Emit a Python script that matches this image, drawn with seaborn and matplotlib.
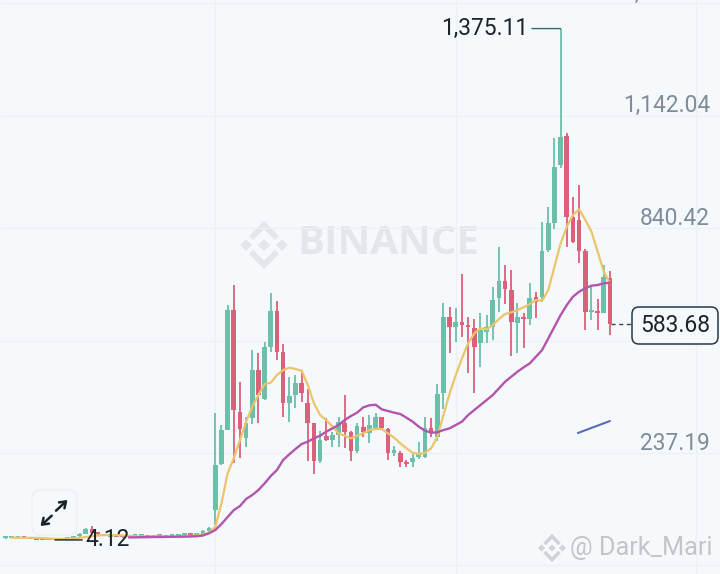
import matplotlib
matplotlib.use('Agg')
import numpy as np
import pandas as pd
import matplotlib.pyplot as plt
import seaborn as sns
from matplotlib.patches import FancyBboxPatch, Polygon

# candles, oldest first
opens = [8, 8.5, 9, 10, 8, 6, 5, 5, 4.5, 5, 5, 9, 14, 20, 34, 25, 20, 13, 13, 12, 12, 13, 13, 12, 12, 13, 12, 13, 14, 17, 19, 18, 21, 28,
         84, 207, 299, 620.6, 348, 276.5, 330, 459.7, 381, 522.2, 618.8, 507, 372, 392.7, 425.7, 372, 318.5, 216.6, 282.7, 272, 285.4, 318.5, 294.4, 243.4, 307.8, 289.9, 303.3, 332.8, 300.6, 236.3, 236.3, 213.9, 213.9, 227.3, 227.3, 303, 281,
         397.1, 602.7, 575.9, 589.3, 580.4, 571.4, 531.2, 562.5, 575.9, 651.8, 698.3, 674.2, 584.8, 602.7, 595.5, 656.3, 656.3, 781.4, 854.7, 1009.3, 1087, 870.8, 861.9, 779.6, 615, 616, 613.4, 705.4]
closes = [10, 9.5, 12, 8, 7, 5, 4.5, 4.5, 4.5, 4.5, 9, 13, 20, 33, 24, 20, 15, 15, 12, 11, 13, 14, 13, 11, 13, 14, 13, 15, 17, 19, 18, 21, 27, 37,
          205, 299, 620.6, 352.4, 300.6, 316.7, 459.7, 392.7, 522.2, 618.8, 508.8, 372, 390, 423.9, 398.9, 318.5, 216.6, 272, 272, 285.4, 321, 294.4, 243.4, 309.6, 294.4, 312.2, 334.6, 303.3, 238, 245.2, 213.9, 206.8, 222.9, 238, 303.3, 290, 395.3,
          602.7, 575.9, 589.3, 580.4, 574, 522.3, 566.9, 575.9, 647.4, 698.3, 676, 589.3, 602.7, 595.5, 651.8, 642.9, 779.6, 852.9, 1004.8, 1085.3, 870.8, 803.8, 779.6, 616.1, 618.8, 611.6, 709.9, 583.68]
highs = [11, 10, 13, 10, 9, 6, 5.5, 5.5, 5, 5, 10, 14, 22, 36, 42, 26, 21, 17, 14, 13, 14, 18, 14, 13, 15, 16, 15, 17, 19, 21, 21, 24, 30, 40,
         343.5, 312, 634, 687.6, 428, 334.6, 513, 504.4, 535.7, 665.2, 645.6, 529.4, 440, 446.3, 459.7, 407.9, 318.5, 296.1, 330, 294.4, 334.6, 392.7, 297, 318.5, 332.8, 339, 343.5, 334.6, 303.3, 255.9, 243.4, 218.4, 234.5, 267.6, 334.6, 330, 422,
         640.2, 629.5, 626.8, 717, 600.9, 596.4, 613.4, 607, 683, 790.4, 741.2, 727.8, 640.2, 613.4, 692, 669.7, 857.4, 895.8, 1080.8, 1375.11, 1094.2, 924.4, 955.7, 783.2, 683, 649, 741.2, 726]
lows = [7, 8, 8.5, 7, 6, 4.5, 4.12, 4.12, 4.12, 4.12, 4.5, 8, 13, 19, 21, 18, 14, 12, 11, 9, 11, 12, 11, 9, 11, 12, 11, 12, 13, 15, 16, 17, 20, 26,
        44, 205, 299, 209.5, 223, 252, 314.9, 316.7, 379, 508.8, 486.5, 332.8, 321, 356.9, 374.8, 216.6, 180.9, 211, 270.2, 254, 254, 249.7, 216.6, 238, 280.9, 263, 298.8, 300.6, 218.4, 229, 200.5, 200.5, 200.5, 220, 222.9, 281, 270,
        354.2, 506, 535.7, 549, 452.5, 397.1, 468.6, 531.2, 540, 616.1, 636.6, 497, 506, 517.8, 580.4, 598.2, 642.9, 775, 836.8, 1000, 788.6, 799, 747.5, 566.9, 593.7, 566.9, 611.6, 553.5]

# the two moving averages, first candle of each given below
ma_fast_start = 1
ma_fast = [10, 10, 10, 10, 9.5, 9, 8, 7, 7, 7.5, 8, 10, 12, 14, 16, 17, 17.5, 17, 16, 15, 14, 13.5, 13, 13, 13, 13, 13, 13, 14, 15, 16, 18, 24,
           38.8, 102, 182.6, 222.9, 272, 321.2, 361.4, 392.7, 422.2, 425.7, 446.3, 459.7, 465.9, 462.4, 457.9, 419.5, 370.3, 339, 325.6, 307.8, 289.9, 283.6, 276.5, 283.6, 289.9, 298.8, 301.5, 301.5, 289.9, 278.3, 263, 249.7, 238, 234.5, 238, 249.7, 280,
           339, 397.1, 446.3, 491, 531.2, 558, 571.4, 568.7, 580.4, 596.4, 609.8, 614.3, 620.6, 627.7, 636.6, 647.4, 645.6, 674.2, 736.7, 799.3, 844, 875.3, 890.5, 861.9, 830.6, 777, 723.3, 692.1]
ma_slow_start = 20
ma_slow = [11, 11, 11.5, 11.5, 12, 12, 12.5, 12.5, 13, 13, 13.5, 14, 16, 22,
           30.7, 46.8, 65.6, 84, 95, 114, 124.6, 138, 155.8, 175.5, 191.6, 218.4, 233.6, 247.9, 261.3, 267.6, 276.5, 283.6, 294.4, 303.3, 312.2, 325.6, 336.4, 345.3, 359.6, 365, 366.7, 354.2, 349.8, 345.3, 341.7, 331.9, 321.2, 307.8, 297, 291.7, 292.6,
           298.8, 303.3, 312.2, 321.2, 339, 352.4, 365.8, 379.2, 392.7, 410.6, 428.4, 441.8, 455.2, 466.9, 477.6, 495.5, 513.3, 544.6, 575.9, 607.2, 634, 656.3, 669.7, 678.7, 685.8, 687.6, 692.1, 693.9]

trend_x = [92.8, 98]
trend_y = [290.8, 323]

price_ticks = [1443.66, 1142.04, 840.42, 538.8, 237.19, -64.4]
price_labels = ['1,443.66', '1,142.04', '840.42', '', '237.19', '']
time_grid = [34, 73, 112]
last_price = 583.68
high_label = '1,375.11'
low_label = '4.12'

BG = '#f5f9fc'
GRID = '#edf1f6'
UP = '#6cc0a9'
DOWN = '#dc6079'
YELLOW = '#ecc46a'
MAGENTA = '#b455ab'
INK = '#1e2329'
AXIS_TEXT = '#7f8c9a'
WM = '#e3e7eb'
FS = 16.4

sns.set_theme(style='white')
plt.rcParams['font.family'] = ['Roboto', 'DejaVu Sans']

df = pd.DataFrame({'open': opens, 'high': highs, 'low': lows, 'close': closes})
df['i'] = np.arange(len(df))
up = df['close'] >= df['open']
colors = np.where(up, UP, DOWN)

fig = plt.figure(figsize=(7.2, 5.74), dpi=100, facecolor=BG)

def pixel_axes(z):
    a = fig.add_axes([0, 0, 1, 1], zorder=z, facecolor='none')
    a.set_xlim(0, 720)
    a.set_ylim(574, 0)
    a.axis('off')
    return a

def binance_logo(a, cx, cy, s, color):
    # s is half the logo height in pixels
    u = s / 4.0
    for dx, dy in [(0, 0), (-3, 0), (3, 0)]:
        a.add_patch(Polygon([(cx + dx*u, cy + dy*u - u), (cx + dx*u + u, cy + dy*u),
                             (cx + dx*u, cy + dy*u + u), (cx + dx*u - u, cy + dy*u)], color=color, lw=0))
    for sign in (-1, 1):
        a.add_patch(Polygon([(cx, cy + sign*4*u), (cx + 2.5*u, cy + sign*1.5*u), (cx + 1.8*u, cy + sign*0.8*u),
                             (cx, cy + sign*2.6*u), (cx - 1.8*u, cy + sign*0.8*u), (cx - 2.5*u, cy + sign*1.5*u)],
                            color=color, lw=0))

back = pixel_axes(0)
binance_logo(back, 264, 245, 24, WM)
back.text(388, 244, 'BINANCE', color=WM, fontsize=29, fontweight='bold', family='Open Sans', ha='center', va='center')

ax = fig.add_axes([0, 0, 1, 1], zorder=1, facecolor='none')
ax.set_xlim(-0.908, 115.84)
ax.set_ylim(-87.2, 1451.7)

ax.vlines(time_grid, -87.2, 1451.7, color=GRID, lw=1, zorder=0)
ax.hlines(price_ticks, -0.908, 115.84, color=GRID, lw=1, zorder=0)

ax.vlines(df['i'], df['low'], df['high'], colors=colors, lw=1.3, zorder=2)
body_low = df[['open', 'close']].min(axis=1)
body_h = (df['close'] - df['open']).abs().clip(lower=6)
ax.bar(df['i'], body_h, bottom=body_low, width=0.75, color=colors, lw=0, zorder=2)

fast = pd.DataFrame({'i': np.arange(len(ma_fast)) + ma_fast_start, 'v': ma_fast})
slow = pd.DataFrame({'i': np.arange(len(ma_slow)) + ma_slow_start, 'v': ma_slow})
sns.lineplot(data=fast, x='i', y='v', ax=ax, color=YELLOW, lw=1.6, zorder=3, estimator=None, sort=False)
sns.lineplot(data=slow, x='i', y='v', ax=ax, color=MAGENTA, lw=1.7, zorder=4, estimator=None, sort=False)
ax.plot(trend_x, trend_y, color='#5b6bb5', lw=1.5, zorder=4)

ax.axis('off')

# price axis labels sit just above their grid lines
for p, lab in zip(price_ticks, price_labels):
    if lab:
        ax.annotate(lab, xy=(710 / 720, p), xycoords=('axes fraction', 'data'), xytext=(0, 7.2),
                    textcoords='offset points', ha='right', va='center', color=AXIS_TEXT, fontsize=FS, zorder=5)

# high and low markers
i_hi = int(np.argmax(highs))
ax.annotate(high_label, xy=(i_hi, max(highs)), xytext=(-23, 0), textcoords='offset points', ha='right', va='center',
            color=INK, fontsize=FS, zorder=5, arrowprops=dict(arrowstyle='-', color='#2f6f63', lw=1, shrinkA=0, shrinkB=0))
i_lo = int(np.argmin(lows)) + 2
ax.annotate(low_label, xy=(i_lo, min(lows)), xytext=(22, 0), textcoords='offset points', ha='left', va='center',
            color=INK, fontsize=FS, zorder=5, arrowprops=dict(arrowstyle='-', color=INK, lw=1, shrinkA=0, shrinkB=0))

ax.hlines(last_price, len(df) - 1 + 0.2, 101.6, color='#3a4653', lw=1, linestyles=(0, (3, 2.5)), zorder=5)

top = pixel_axes(2)
top.add_patch(FancyBboxPatch((638, 313), 74, 25, boxstyle='round,pad=6,rounding_size=7', fc=BG, ec='#27384a', lw=1.1))
top.text(675, 325.5, f'{last_price:.2f}', color=INK, fontsize=FS, ha='center', va='center')

# expand button
top.add_patch(FancyBboxPatch((38, 496), 33, 33, boxstyle='round,pad=6,rounding_size=8', fc=BG, ec='#ebeff3', lw=1))
for a, b in [((56, 510.7), (67.5, 500)), ((51.7, 515.7), (40.5, 526))]:
    top.annotate('', xy=b, xytext=a, arrowprops=dict(arrowstyle='->,head_length=0.34,head_width=0.24', color=INK, lw=1.8, shrinkA=0, shrinkB=0))

# corner watermark
binance_logo(top, 552, 548, 14, '#cfd2d6')
top.text(570, 548, '@ Dark_Mari', color='#c3c5c9', fontsize=18.2, ha='left', va='center')

fig.savefig('out.png', dpi=100, facecolor=BG)
